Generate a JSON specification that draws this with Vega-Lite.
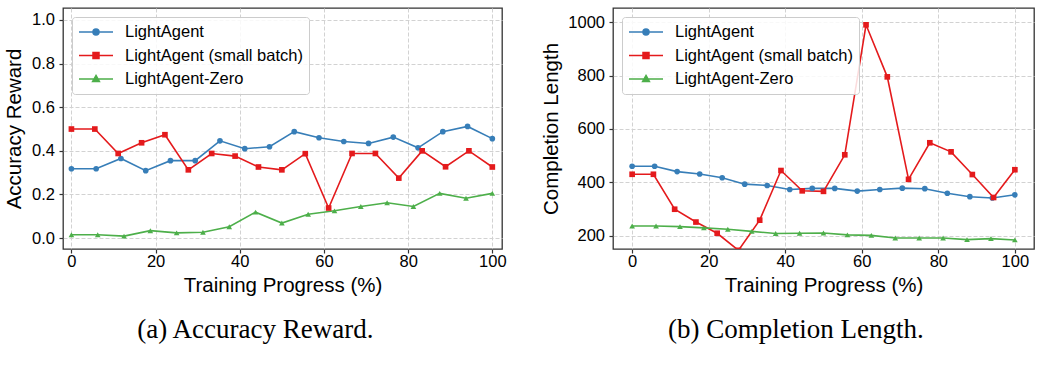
{
  "$schema": "https://vega.github.io/schema/vega-lite/v6.json",
  "padding": {"left": 3, "top": 7, "right": 0, "bottom": 0},
  "background": "white",
  "spacing": 34,
  "datasets": {
    "acc": [
      {"series": "LightAgent", "progress": 0, "value": 0.318},
      {"series": "LightAgent", "progress": 5.88, "value": 0.318},
      {"series": "LightAgent", "progress": 11.76, "value": 0.365},
      {"series": "LightAgent", "progress": 17.65, "value": 0.309},
      {"series": "LightAgent", "progress": 23.53, "value": 0.355},
      {"series": "LightAgent", "progress": 29.41, "value": 0.355},
      {"series": "LightAgent", "progress": 35.29, "value": 0.446},
      {"series": "LightAgent", "progress": 41.18, "value": 0.41},
      {"series": "LightAgent", "progress": 47.06, "value": 0.419},
      {"series": "LightAgent", "progress": 52.94, "value": 0.488},
      {"series": "LightAgent", "progress": 58.82, "value": 0.46},
      {"series": "LightAgent", "progress": 64.71, "value": 0.443},
      {"series": "LightAgent", "progress": 70.59, "value": 0.434},
      {"series": "LightAgent", "progress": 76.47, "value": 0.463},
      {"series": "LightAgent", "progress": 82.35, "value": 0.414},
      {"series": "LightAgent", "progress": 88.24, "value": 0.488},
      {"series": "LightAgent", "progress": 94.12, "value": 0.512},
      {"series": "LightAgent", "progress": 100, "value": 0.456},
      {"series": "LightAgent (small batch)", "progress": 0, "value": 0.5},
      {"series": "LightAgent (small batch)", "progress": 5.56, "value": 0.5},
      {"series": "LightAgent (small batch)", "progress": 11.11, "value": 0.388},
      {"series": "LightAgent (small batch)", "progress": 16.67, "value": 0.437},
      {"series": "LightAgent (small batch)", "progress": 22.22, "value": 0.474},
      {"series": "LightAgent (small batch)", "progress": 27.78, "value": 0.313},
      {"series": "LightAgent (small batch)", "progress": 33.33, "value": 0.388},
      {"series": "LightAgent (small batch)", "progress": 38.89, "value": 0.376},
      {"series": "LightAgent (small batch)", "progress": 44.44, "value": 0.326},
      {"series": "LightAgent (small batch)", "progress": 50, "value": 0.313},
      {"series": "LightAgent (small batch)", "progress": 55.56, "value": 0.387},
      {"series": "LightAgent (small batch)", "progress": 61.11, "value": 0.138},
      {"series": "LightAgent (small batch)", "progress": 66.67, "value": 0.388},
      {"series": "LightAgent (small batch)", "progress": 72.22, "value": 0.388},
      {"series": "LightAgent (small batch)", "progress": 77.78, "value": 0.275},
      {"series": "LightAgent (small batch)", "progress": 83.33, "value": 0.4},
      {"series": "LightAgent (small batch)", "progress": 88.89, "value": 0.327},
      {"series": "LightAgent (small batch)", "progress": 94.44, "value": 0.4},
      {"series": "LightAgent (small batch)", "progress": 100, "value": 0.326},
      {"series": "LightAgent-Zero", "progress": 0, "value": 0.015},
      {"series": "LightAgent-Zero", "progress": 6.25, "value": 0.015},
      {"series": "LightAgent-Zero", "progress": 12.5, "value": 0.009},
      {"series": "LightAgent-Zero", "progress": 18.75, "value": 0.034},
      {"series": "LightAgent-Zero", "progress": 25, "value": 0.024},
      {"series": "LightAgent-Zero", "progress": 31.25, "value": 0.027},
      {"series": "LightAgent-Zero", "progress": 37.5, "value": 0.052},
      {"series": "LightAgent-Zero", "progress": 43.75, "value": 0.119},
      {"series": "LightAgent-Zero", "progress": 50, "value": 0.069},
      {"series": "LightAgent-Zero", "progress": 56.25, "value": 0.109},
      {"series": "LightAgent-Zero", "progress": 62.5, "value": 0.125},
      {"series": "LightAgent-Zero", "progress": 68.75, "value": 0.145},
      {"series": "LightAgent-Zero", "progress": 75, "value": 0.162},
      {"series": "LightAgent-Zero", "progress": 81.25, "value": 0.145},
      {"series": "LightAgent-Zero", "progress": 87.5, "value": 0.205},
      {"series": "LightAgent-Zero", "progress": 93.75, "value": 0.183},
      {"series": "LightAgent-Zero", "progress": 100, "value": 0.205}
    ],
    "len": [
      {"series": "LightAgent", "progress": 0, "value": 460},
      {"series": "LightAgent", "progress": 5.88, "value": 460},
      {"series": "LightAgent", "progress": 11.76, "value": 440},
      {"series": "LightAgent", "progress": 17.65, "value": 431},
      {"series": "LightAgent", "progress": 23.53, "value": 417},
      {"series": "LightAgent", "progress": 29.41, "value": 393},
      {"series": "LightAgent", "progress": 35.29, "value": 388},
      {"series": "LightAgent", "progress": 41.18, "value": 373},
      {"series": "LightAgent", "progress": 47.06, "value": 377},
      {"series": "LightAgent", "progress": 52.94, "value": 377},
      {"series": "LightAgent", "progress": 58.82, "value": 367},
      {"series": "LightAgent", "progress": 64.71, "value": 373},
      {"series": "LightAgent", "progress": 70.59, "value": 378},
      {"series": "LightAgent", "progress": 76.47, "value": 376},
      {"series": "LightAgent", "progress": 82.35, "value": 359},
      {"series": "LightAgent", "progress": 88.24, "value": 346},
      {"series": "LightAgent", "progress": 94.12, "value": 341},
      {"series": "LightAgent", "progress": 100, "value": 353},
      {"series": "LightAgent (small batch)", "progress": 0, "value": 430},
      {"series": "LightAgent (small batch)", "progress": 5.56, "value": 430},
      {"series": "LightAgent (small batch)", "progress": 11.11, "value": 299},
      {"series": "LightAgent (small batch)", "progress": 16.67, "value": 251},
      {"series": "LightAgent (small batch)", "progress": 22.22, "value": 209},
      {"series": "LightAgent (small batch)", "progress": 27.78, "value": 145},
      {"series": "LightAgent (small batch)", "progress": 33.33, "value": 258},
      {"series": "LightAgent (small batch)", "progress": 38.89, "value": 444},
      {"series": "LightAgent (small batch)", "progress": 44.44, "value": 368},
      {"series": "LightAgent (small batch)", "progress": 50, "value": 366},
      {"series": "LightAgent (small batch)", "progress": 55.56, "value": 503},
      {"series": "LightAgent (small batch)", "progress": 61.11, "value": 990},
      {"series": "LightAgent (small batch)", "progress": 66.67, "value": 795},
      {"series": "LightAgent (small batch)", "progress": 72.22, "value": 411},
      {"series": "LightAgent (small batch)", "progress": 77.78, "value": 548},
      {"series": "LightAgent (small batch)", "progress": 83.33, "value": 514},
      {"series": "LightAgent (small batch)", "progress": 88.89, "value": 429},
      {"series": "LightAgent (small batch)", "progress": 94.44, "value": 343},
      {"series": "LightAgent (small batch)", "progress": 100, "value": 447},
      {"series": "LightAgent-Zero", "progress": 0, "value": 236},
      {"series": "LightAgent-Zero", "progress": 6.25, "value": 236},
      {"series": "LightAgent-Zero", "progress": 12.5, "value": 234},
      {"series": "LightAgent-Zero", "progress": 18.75, "value": 229},
      {"series": "LightAgent-Zero", "progress": 25, "value": 224},
      {"series": "LightAgent-Zero", "progress": 31.25, "value": 216},
      {"series": "LightAgent-Zero", "progress": 37.5, "value": 208},
      {"series": "LightAgent-Zero", "progress": 43.75, "value": 209},
      {"series": "LightAgent-Zero", "progress": 50, "value": 210},
      {"series": "LightAgent-Zero", "progress": 56.25, "value": 203},
      {"series": "LightAgent-Zero", "progress": 62.5, "value": 201},
      {"series": "LightAgent-Zero", "progress": 68.75, "value": 191},
      {"series": "LightAgent-Zero", "progress": 75, "value": 191},
      {"series": "LightAgent-Zero", "progress": 81.25, "value": 191},
      {"series": "LightAgent-Zero", "progress": 87.5, "value": 185},
      {"series": "LightAgent-Zero", "progress": 93.75, "value": 189},
      {"series": "LightAgent-Zero", "progress": 100, "value": 184}
    ]
  },
  "resolve": {"legend": {"color": "independent"}, "scale": {"color": "shared"}},
  "hconcat": [
    {
      "width": 439,
      "height": 241,
      "data": {"name": "acc"},
      "title": {"text": "(a) Accuracy Reward."},
      "encoding": {
        "x": {"field": "progress", "type": "quantitative", "scale": {"domain": [-2, 102.3], "nice": false, "zero": false}, "axis": {"values": [0, 20, 40, 60, 80, 100], "title": "Training Progress (%)", "labelPadding": 0}},
        "y": {"field": "value", "type": "quantitative", "scale": {"domain": [-0.05, 1.055], "nice": false, "zero": false}, "axis": {"values": [0, 0.2, 0.4, 0.6, 0.8, 1.0], "format": ".1f", "title": "Accuracy Reward", "labelPadding": 4.5, "titlePadding": 7}},
        "color": {"field": "series", "type": "nominal", "scale": {"domain": ["LightAgent", "LightAgent (small batch)", "LightAgent-Zero"]},
          "legend": {"encode": {"symbols": {"update": {
            "shape": {"signal": "datum.value === 'LightAgent' ? 'M-1,0H3.25M0.75,0A0.375,0.375,0,1,1,1.5,0A0.375,0.375,0,1,1,0.75,0Z' : datum.value === 'LightAgent-Zero' ? 'M-1,0H3.25M1.125,-0.45L1.55,0.3L0.7,0.3Z' : 'M-1,0H3.25M0.75,-0.375H1.5V0.375H0.75Z'"},
            "fill": {"signal": "datum.value === 'LightAgent' ? '#377eb8' : datum.value === 'LightAgent-Zero' ? '#4daf4a' : '#e41a1c'"},
            "stroke": {"signal": "datum.value === 'LightAgent' ? '#377eb8' : datum.value === 'LightAgent-Zero' ? '#4daf4a' : '#e41a1c'"},
            "strokeWidth": {"value": 1.5},
            "size": {"value": 256},
            "opacity": {"value": 1}
          }}}}}
      },
      "layer": [
        {"mark": {"type": "line", "strokeWidth": 1.6}},
        {"mark": {"type": "point", "filled": true, "opacity": 1, "size": 32}, "encoding": {"shape": {"field": "series", "type": "nominal", "scale": {"domain": ["LightAgent", "LightAgent (small batch)", "LightAgent-Zero"], "range": ["circle", "square", "triangle-up"]}, "legend": null}}}
      ]
    },
    {
      "width": 421,
      "height": 241,
      "data": {"name": "len"},
      "title": {"text": "(b) Completion Length.", "dx": 8},
      "encoding": {
        "x": {"field": "progress", "type": "quantitative", "scale": {"domain": [-5, 105], "nice": false, "zero": false}, "axis": {"values": [0, 20, 40, 60, 80, 100], "title": "Training Progress (%)", "labelPadding": 0}},
        "y": {"field": "value", "type": "quantitative", "scale": {"domain": [150, 1053], "nice": false, "zero": false}, "axis": {"values": [200, 400, 600, 800, 1000], "format": "d", "title": "Completion Length", "labelPadding": 4.5, "titlePadding": 6}},
        "color": {"field": "series", "type": "nominal", "scale": {"domain": ["LightAgent", "LightAgent (small batch)", "LightAgent-Zero"]},
          "legend": {"encode": {"symbols": {"update": {
            "shape": {"signal": "datum.value === 'LightAgent' ? 'M-1,0H3.25M0.75,0A0.375,0.375,0,1,1,1.5,0A0.375,0.375,0,1,1,0.75,0Z' : datum.value === 'LightAgent-Zero' ? 'M-1,0H3.25M1.125,-0.45L1.55,0.3L0.7,0.3Z' : 'M-1,0H3.25M0.75,-0.375H1.5V0.375H0.75Z'"},
            "fill": {"signal": "datum.value === 'LightAgent' ? '#377eb8' : datum.value === 'LightAgent-Zero' ? '#4daf4a' : '#e41a1c'"},
            "stroke": {"signal": "datum.value === 'LightAgent' ? '#377eb8' : datum.value === 'LightAgent-Zero' ? '#4daf4a' : '#e41a1c'"},
            "strokeWidth": {"value": 1.5},
            "size": {"value": 256},
            "opacity": {"value": 1}
          }}}}}
      },
      "layer": [
        {"mark": {"type": "line", "strokeWidth": 1.6, "clip": true}},
        {"mark": {"type": "point", "filled": true, "opacity": 1, "size": 32, "clip": true}, "encoding": {"shape": {"field": "series", "type": "nominal", "scale": {"domain": ["LightAgent", "LightAgent (small batch)", "LightAgent-Zero"], "range": ["circle", "square", "triangle-up"]}, "legend": null}}}
      ]
    }
  ],
  "config": {
    "view": {"stroke": "#333333", "strokeWidth": 1.3},
    "range": {"category": ["#377eb8", "#e41a1c", "#4daf4a"]},
    "axis": {
      "domain": false,
      "grid": true,
      "gridColor": "#d2d2d2",
      "gridDash": [4, 2],
      "gridWidth": 1,
      "ticks": true,
      "tickColor": "#333333",
      "tickSize": 4,
      "tickWidth": 1.2,
      "labelFont": "Liberation Sans",
      "labelFontSize": 16.5,
      "labelColor": "#000000",
      "labelPadding": 3,
      "titleFont": "Liberation Sans",
      "titleFontSize": 20.5,
      "titleFontWeight": "normal",
      "titleColor": "#000000",
      "titlePadding": 6
    },
    "legend": {
      "orient": "top-left",
      "offset": 9,
      "title": null,
      "labelFont": "Liberation Sans",
      "labelFontSize": 16.5,
      "labelColor": "#000000",
      "labelLimit": 400,
      "padding": 6,
      "rowPadding": 5.5,
      "symbolSize": 256,
      "labelOffset": 29,
      "fillColor": "rgba(255,255,255,0.85)",
      "strokeColor": "#cccccc",
      "cornerRadius": 3,
      "symbolStrokeWidth": 1.5,
      "symbolOpacity": 1
    },
    "title": {
      "font": "Liberation Serif",
      "fontSize": 27,
      "fontWeight": "normal",
      "color": "#000000",
      "orient": "bottom",
      "anchor": "middle",
      "frame": "bounds",
      "offset": 21
    },
    "line": {"strokeWidth": 1.6}
  }
}
